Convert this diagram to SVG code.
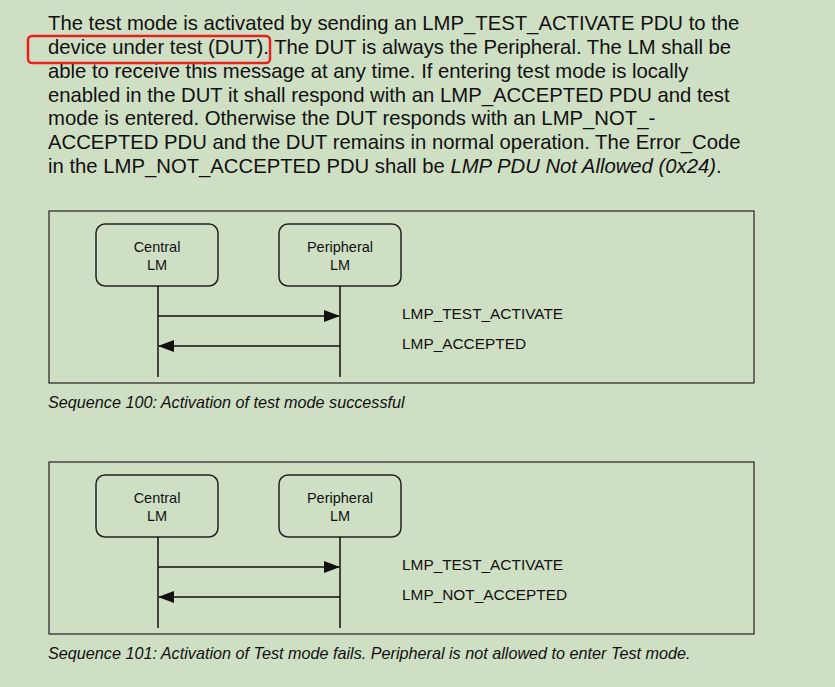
<svg xmlns="http://www.w3.org/2000/svg" width="835" height="687" viewBox="0 0 835 687">
<style>
.p{font-family:"Liberation Sans",Arial,sans-serif;font-size:20.3px;fill:#111}
.n{font-family:"Liberation Sans",Arial,sans-serif;font-size:14.5px;fill:#111;text-anchor:middle}
.l{font-family:"Liberation Sans",Arial,sans-serif;font-size:15.4px;fill:#111}
.c{font-family:"Liberation Sans",Arial,sans-serif;font-size:16.2px;font-style:italic;fill:#111}
.box{fill:none;stroke:#222;stroke-width:1.2}
.nd{fill:none;stroke:#222;stroke-width:1.5}
.ln{stroke:#111;stroke-width:1.5;fill:none}
</style>
<defs><marker id="a" markerWidth="16" markerHeight="12" refX="15" refY="6" orient="auto" markerUnits="userSpaceOnUse"><path d="M0,0L16,6L0,12z" fill="#111"/></marker></defs>
<rect width="835" height="687" fill="#cfdfc4"/>
<g id="text">
<text class="p" x="48" y="30">The test mode is activated by sending an LMP_TEST_ACTIVATE PDU to the</text>
<text class="p" x="48" y="54">device under test (DUT). The DUT is always the Peripheral. The LM shall be</text>
<text class="p" x="48" y="78">able to receive this message at any time. If entering test mode is locally</text>
<text class="p" x="48" y="102">enabled in the DUT it shall respond with an LMP_ACCEPTED PDU and test</text>
<text class="p" x="48" y="125">mode is entered. Otherwise the DUT responds with an LMP_NOT_-</text>
<text class="p" x="48" y="149">ACCEPTED PDU and the DUT remains in normal operation. The Error_Code</text>
<text class="p" x="48" y="173">in the LMP_NOT_ACCEPTED PDU shall be <tspan font-style="italic">LMP PDU Not Allowed (0x24)</tspan>.</text>
<rect x="28" y="36" width="242" height="27" rx="4" fill="none" stroke="#e8201c" stroke-width="2.5"/>
</g>
<g id="seq100">
<rect class="box" x="49" y="211" width="705" height="172"/>
<g id="central1"><rect class="nd" x="96" y="224" width="122" height="62" rx="9"/><text class="n" x="157" y="252">Central</text><text class="n" x="157" y="270">LM</text></g>
<g id="peripheral1"><rect class="nd" x="279" y="224" width="122" height="62" rx="9"/><text class="n" x="340" y="252">Peripheral</text><text class="n" x="340" y="270">LM</text></g>
<g id="connectors1">
<line class="ln" x1="158" y1="286" x2="158" y2="377"/><line class="ln" x1="340" y1="286" x2="340" y2="377"/>
<line class="ln" x1="158" y1="316" x2="339" y2="316" marker-end="url(#a)"/>
<line class="ln" x1="340" y1="346" x2="159" y2="346" marker-end="url(#a)"/>
</g>
<text class="l" x="402" y="319">LMP_TEST_ACTIVATE</text>
<text class="l" x="402" y="349">LMP_ACCEPTED</text>
<text class="c" x="48" y="408">Sequence 100: Activation of test mode successful</text>
</g>
<g id="seq101">
<rect class="box" x="49" y="462" width="705" height="172"/>
<g id="central2"><rect class="nd" x="96" y="475" width="122" height="62" rx="9"/><text class="n" x="157" y="503">Central</text><text class="n" x="157" y="521">LM</text></g>
<g id="peripheral2"><rect class="nd" x="279" y="475" width="122" height="62" rx="9"/><text class="n" x="340" y="503">Peripheral</text><text class="n" x="340" y="521">LM</text></g>
<g id="connectors2">
<line class="ln" x1="158" y1="537" x2="158" y2="628"/><line class="ln" x1="340" y1="537" x2="340" y2="628"/>
<line class="ln" x1="158" y1="567" x2="339" y2="567" marker-end="url(#a)"/>
<line class="ln" x1="340" y1="597" x2="159" y2="597" marker-end="url(#a)"/>
</g>
<text class="l" x="402" y="570">LMP_TEST_ACTIVATE</text>
<text class="l" x="402" y="600">LMP_NOT_ACCEPTED</text>
<text class="c" x="48" y="659">Sequence 101: Activation of Test mode fails. Peripheral is not allowed to enter Test mode.</text>
</g>
</svg>
